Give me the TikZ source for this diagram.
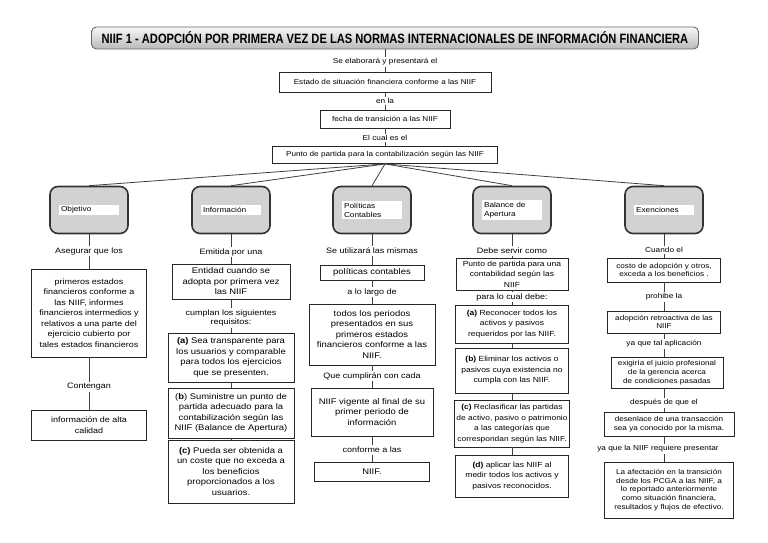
\documentclass[tikz,border=0pt]{standalone}
\usepackage{fontspec}
\setmainfont{Liberation Sans}[FakeStretch=1.15]
\newfontfamily\letratitulo{Liberation Sans}[FakeStretch=0.825]

\begin{document}
\begin{tikzpicture}[x=1pt, y=-1pt,
  linea/.style={draw=black!75, line width=0.8pt},
  enlace/.style={inner sep=1.5pt, align=center, font=\fontsize{7.8}{9.5}\selectfont},
  enlacito/.style={inner sep=1.5pt, align=center, font=\fontsize{7.2}{9}\selectfont},
  caja/.style={draw=black!85, line width=0.8pt, align=center, inner sep=2pt, font=\fontsize{8.2}{10.5}\selectfont},
  cajita/.style={caja, font=\fontsize{7.1}{8.7}\selectfont},
  tema/.style={draw=black!80, line width=1.6pt, rounded corners=8pt, fill=gray!35, minimum width=78pt, minimum height=47pt},
  rotulo/.style={fill=white, align=left, text width=56pt, inner sep=2pt, font=\fontsize{7.2}{9.2}\selectfont}]
\fill[white] (0,0) rectangle (768,543);
\useasboundingbox (0,0) rectangle (768,543);

% cabecera
\node[draw=black!60, line width=0.9pt, rounded corners=5pt, top color=gray!5, bottom color=gray!55,
  minimum width=607pt, minimum height=22pt, font=\letratitulo\bfseries\fontsize{13.5}{15}\selectfont]
  (titulo) at (395,38) {NIIF 1 - ADOPCIÓN POR PRIMERA VEZ DE LAS NORMAS INTERNACIONALES DE INFORMACIÓN FINANCIERA};
\node[enlacito] (l0) at (385,62) {Se elaborará y presentará el};
\node[cajita, minimum width=212pt, minimum height=20pt] (estado) at (385,82) {Estado de situación financiera conforme a las NIIF};
\node[enlacito] (l1) at (385,101) {en la};
\node[cajita, minimum width=130pt, minimum height=18pt] (fecha) at (385,119) {fecha de transición a las NIIF};
\node[enlacito] (l2) at (385,138) {El cual es el};
\node[cajita, minimum width=225pt, minimum height=17pt] (punto) at (385,155) {Punto de partida para la contabilización según las NIIF};
\draw[linea] (titulo.south -| l0) -- (l0) -- (estado) -- (l1) -- (fecha) -- (l2) -- (punto);

% temas
\node[tema] (objetivo) at (89,210) {};
\node[rotulo] (objetivo-r) at (objetivo) {Objetivo};
\node[tema] (informacion) at (231,210) {};
\node[rotulo] (informacion-r) at (informacion) {Información};
\node[tema] (politicas) at (372,210) {};
\node[rotulo] (politicas-r) at (politicas) {Políticas\\Contables};
\node[tema] (balance) at (512,210) {};
\node[rotulo] (balance-r) at (balance) {Balance de\\Apertura};
\node[tema] (exenciones) at (664,210) {};
\node[rotulo] (exenciones-r) at (exenciones) {Exenciones};
\foreach \t in {objetivo,informacion,politicas,balance,exenciones}
  \draw[linea] (punto.south) -- (\t.north);

% objetivo
\node[enlace] (a1) at (89,251) {Asegurar que los};
\node[caja, font=\fontsize{7.8}{10.5}\selectfont, minimum width=115pt, minimum height=88pt] (o1) at (89,313)
  {primeros estados\\financieros conforme a\\las NIIF, informes\\financieros intermedios y\\relativos a una parte del\\ejercicio cubierto por\\tales estados financieros};
\node[enlace] (a2) at (89,387) {Contengan};
\node[caja, font=\fontsize{7.8}{10.5}\selectfont, minimum width=115pt, minimum height=30pt] (o2) at (89,425) {información de alta\\calidad};
\draw[linea] (objetivo) -- (a1) -- (o1) -- (a2) -- (o2);

% informacion
\node[enlace] (b1) at (231,252) {Emitida por una};
\node[caja, minimum width=118pt, minimum height=35pt] (i1) at (231,281.5) {Entidad cuando se\\adopta por primera vez\\las NIIF};
\node[enlace] (b2) at (231,318) {cumplan los siguientes\\requisitos:};
\node[caja, minimum width=126pt, minimum height=49pt] (i2) at (231,357.5)
  {\textbf{(a)} Sea transparente para\\los usuarios y comparable\\para todos los ejercicios\\que se presenten.};
\node[caja, minimum width=126pt, minimum height=50pt] (i3) at (231,413)
  {(\textbf{b}) Suministre un punto de\\partida adecuado para la\\contabilización según las\\NIIF (Balance de Apertura)};
\node[caja, minimum width=126pt, minimum height=63pt] (i4) at (231,471.5)
  {\textbf{(c)} Pueda ser obtenida a\\un coste que no exceda a\\los beneficios\\proporcionados a los\\usuarios.};
\draw[linea] (informacion) -- (b1) -- (i1) -- (b2) -- (i2) -- (i3) -- (i4);

% politicas contables
\node[enlace] (c1) at (372,251) {Se utilizará las mismas};
\node[caja, minimum width=104pt, minimum height=15pt] (p1) at (372,272.5) {políticas contables};
\node[enlace] (c2) at (372,292) {a lo largo de};
\node[caja, minimum width=126pt, minimum height=61pt] (p2) at (372,334.5)
  {todos los periodos\\presentados en sus\\primeros estados\\financieros conforme a las\\NIIF.};
\node[enlace] (c3) at (372,376) {Que cumplirán con cada};
\node[caja, minimum width=122pt, minimum height=48pt] (p3) at (372,412)
  {NIIF vigente al final de su\\primer periodo de\\información};
\node[enlace] (c4) at (372,450) {conforme a las};
\node[caja, minimum width=115pt, minimum height=19pt] (p4) at (372,471.5) {NIIF.};
\draw[linea] (politicas) -- (c1) -- (p1) -- (c2) -- (p2) -- (c3) -- (p3) -- (c4) -- (p4);

% balance de apertura
\node[enlace] (d1) at (512,251) {Debe servir como};
\node[caja, font=\fontsize{7.4}{10.5}\selectfont, minimum width=112pt, minimum height=32pt] (s1) at (512,274)
  {Punto de partida para una\\contabilidad según las\\NIIF};
\node[enlace] (d2) at (512,297) {para lo cual debe:};
\node[caja, font=\fontsize{7.4}{10.5}\selectfont, minimum width=113pt, minimum height=38pt] (s2) at (512,324)
  {\textbf{(a)} Reconocer todos los\\activos y pasivos\\requeridos por las NIIF.};
\node[caja, font=\fontsize{7.4}{10.5}\selectfont, minimum width=113pt, minimum height=45pt] (s3) at (512,370.5)
  {\textbf{(b)} Eliminar los activos o\\pasivos cuya existencia no\\cumpla con las NIIF.};
\node[caja, font=\fontsize{7.3}{10.5}\selectfont, minimum width=114pt, minimum height=47pt] (s4) at (512,423.5)
  {\textbf{(c)} Reclasificar las partidas\\de activo, pasivo o patrimonio\\a las categorías que\\correspondan según las NIIF.};
\node[caja, font=\fontsize{7.4}{10.5}\selectfont, minimum width=113pt, minimum height=42pt] (s5) at (512,476)
  {\textbf{(d)} aplicar las NIIF al\\medir todos los activos y\\pasivos reconocidos.};
\draw[linea] (balance) -- (d1) -- (s1) -- (d2) -- (s2) -- (s3) -- (s4) -- (s5);

% exenciones
\node[enlacito] (f1) at (664,250) {Cuando el};
\node[cajita, minimum width=113pt, minimum height=24pt] (e1) at (664,270) {costo de adopción y otros,\\exceda a los beneficios .};
\node[enlacito] (f2) at (664,297) {prohibe la};
\node[cajita, minimum width=113pt, minimum height=22pt] (e2) at (664,322) {adopción retroactiva de las\\NIIF};
\node[enlacito] (f3) at (664,344) {ya que tal aplicación};
\node[cajita, minimum width=112pt, minimum height=31pt] (e3) at (667,372.5)
  {exigiría el juicio profesional\\de la gerencia acerca\\de condiciones pasadas};
\node[enlacito] (f4) at (664,403) {después de que el};
\node[cajita, minimum width=130pt, minimum height=24pt] (e4) at (669,424)
  {desenlace de una transacción\\sea ya conocido por la misma.};
\node[enlacito] (f5) at (658,449) {ya que la NIIF requiere presentar};
\node[cajita, minimum width=129pt, minimum height=56pt] (e5) at (669,490)
  {La afectación en la transición\\desde los PCGA a las NIIF, a\\lo reportado anteriormente\\como situación financiera,\\resultados y flujos de efectivo.};
\draw[linea] (exenciones) -- (f1) -- (e1) -- (f2) -- (e2);
\draw[linea] (f2.north |- e2.south) -- (f3) -- (f3 |- e3.north);
\draw[linea] (f3 |- e3.south) -- (f4) -- (f4 |- e4.north);
\draw[linea] (f4 |- e4.south) -- (f4 |- f5.north) (f4 |- f5.south) -- (f4 |- e5.north);
\end{tikzpicture}
\end{document}
